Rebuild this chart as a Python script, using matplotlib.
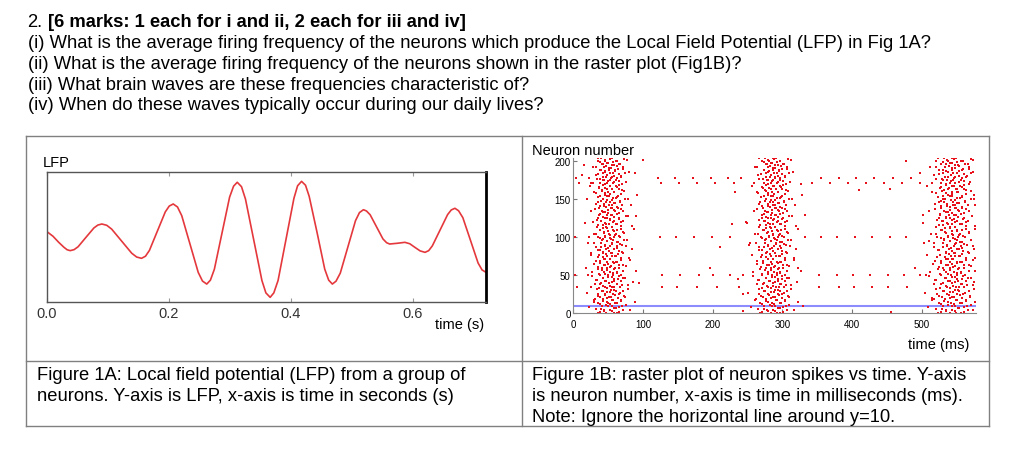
import numpy as np
import matplotlib.pyplot as plt

plt.rcParams['font.family'] = ['Liberation Sans', 'DejaVu Sans']

# question and captions
question_num = "2."
question_head = "[6 marks: 1 each for i and ii, 2 each for iii and iv]"
question_lines = [
    "(i) What is the average firing frequency of the neurons which produce the Local Field Potential (LFP) in Fig 1A?",
    "(ii) What is the average firing frequency of the neurons shown in the raster plot (Fig1B)?",
    "(iii) What brain waves are these frequencies characteristic of?",
    "(iv) When do these waves typically occur during our daily lives?",
]
caption_a = ["Figure 1A: Local field potential (LFP) from a group of",
             "neurons. Y-axis is LFP, x-axis is time in seconds (s)"]
caption_b = ["Figure 1B: raster plot of neuron spikes vs time. Y-axis",
             "is neuron number, x-axis is time in milliseconds (ms).",
             "Note: Ignore the horizontal line around y=10."]

# Fig 1A: LFP trace (time in s, LFP in arbitrary units)
lfp_t = [0.000, 0.010, 0.019, 0.028, 0.033, 0.038, 0.0445, 0.051, 0.064, 0.077, 0.0835,
         0.090, 0.098, 0.106, 0.1225, 0.139, 0.147, 0.155, 0.1615, 0.168, 0.181, 0.194,
         0.2005, 0.207, 0.214, 0.221, 0.2345, 0.248, 0.255, 0.262, 0.268, 0.2745, 0.287,
         0.2995, 0.306, 0.312, 0.319, 0.3255, 0.339, 0.3525, 0.359, 0.366, 0.372, 0.379,
         0.392, 0.405, 0.411, 0.4175, 0.424, 0.430, 0.443, 0.4555, 0.462, 0.468, 0.474,
         0.481, 0.4935, 0.506, 0.5125, 0.519, 0.524, 0.530, 0.5405, 0.551, 0.557, 0.562,
         0.575, 0.587, 0.595, 0.6035, 0.612, 0.620, 0.626, 0.632, 0.6445, 0.657, 0.663,
         0.669, 0.675, 0.682, 0.6945, 0.707, 0.7135, 0.720]
lfp_v = [0.541, 0.505, 0.460, 0.420, 0.402, 0.395, 0.403, 0.425, 0.498, 0.570, 0.592,
         0.600, 0.590, 0.561, 0.468, 0.375, 0.346, 0.336, 0.352, 0.397, 0.545, 0.693,
         0.738, 0.754, 0.731, 0.664, 0.446, 0.228, 0.161, 0.138, 0.168, 0.252, 0.530,
         0.807, 0.891, 0.921, 0.887, 0.792, 0.479, 0.165, 0.070, 0.036, 0.070, 0.166,
         0.482, 0.798, 0.894, 0.928, 0.898, 0.813, 0.533, 0.253, 0.168, 0.138, 0.160,
         0.222, 0.424, 0.626, 0.688, 0.710, 0.700, 0.671, 0.578, 0.485, 0.456, 0.446,
         0.452, 0.459, 0.448, 0.420, 0.393, 0.382, 0.395, 0.432, 0.552, 0.672, 0.708,
         0.721, 0.702, 0.649, 0.475, 0.300, 0.247, 0.228]
lfp_ticks = [0.0, 0.2, 0.4, 0.6]

# Fig 1B: raster; neurons 0..205 each fire twice per burst (times in ms, read roughly)
burst_neurons = list(range(206))
burst1a_t = [47, 62, 38, 55, 71, 44, 33, 58, 66, 50, 41, 75, 53, 36, 60, 48, 69, 29, 56, 43,
             64, 51, 39, 73, 46, 57, 35, 67, 49, 61, 42, 54, 78, 37, 59, 45, 52, 70, 31, 63,
             40, 55, 68, 47, 34, 58, 74, 43, 50, 65, 38, 57, 46, 62, 27, 53, 71, 41, 59, 48,
             66, 36, 54, 44, 72, 50, 39, 61, 57, 32, 69, 45, 52, 80, 42, 60, 49, 37, 64, 55,
             43, 70, 51, 35, 58, 47, 63, 40, 76, 53, 45, 67, 30, 56, 62, 48, 41, 73, 54, 38,
             59, 46, 65, 52, 33, 61, 44, 71, 50, 39, 57, 68, 42, 55, 47, 84, 36, 63, 51, 45,
             69, 40, 58, 34, 53, 66, 48, 43, 75, 56, 37, 62, 50, 46, 72, 41, 59, 31, 54, 64,
             47, 38, 70, 55, 44, 60, 52, 35, 67, 49, 79, 42, 57, 63, 39, 51, 45, 68, 33, 58,
             50, 73, 41, 56, 65, 46, 37, 61, 53, 43, 70, 48, 28, 59, 66, 44, 52, 38, 62, 55,
             42, 68, 49, 36, 57, 74, 45, 60, 51, 40, 64, 54, 32, 71, 47, 58, 43, 66, 50, 39,
             61, 46, 77, 53, 35, 56]
burst1b_t = [58, 35, 66, 44, 52, 82, 40, 61, 23, 55, 70, 47, 38, 63, 50, 88, 42, 57, 68, 31,
             49, 74, 54, 36, 60, 45, 65, 19, 53, 41, 72, 58, 34, 48, 67, 56, 43, 78, 39, 62,
             51, 86, 46, 59, 33, 64, 42, 71, 55, 27, 50, 68, 37, 57, 44, 62, 90, 48, 35, 60,
             41, 53, 75, 46, 66, 30, 58, 49, 63, 39, 81, 52, 44, 69, 36, 56, 61, 25, 47, 72,
             54, 43, 65, 38, 59, 84, 50, 33, 62, 45, 70, 56, 40, 21, 64, 48, 57, 77, 42, 53,
             36, 67, 46, 60, 51, 29, 73, 44, 58, 39, 63, 87, 49, 55, 34, 68, 42, 61, 47, 17,
             57, 71, 40, 52, 65, 45, 35, 59, 79, 48, 54, 38, 66, 43, 60, 26, 50, 69, 37, 56,
             62, 44, 83, 51, 33, 58, 47, 67, 40, 55, 74, 42, 61, 36, 49, 64, 92, 53, 45, 30,
             59, 41, 70, 48, 56, 37, 63, 52, 24, 66, 45, 57, 39, 76, 50, 43, 61, 34, 54, 68,
             47, 58, 32, 65, 42, 53, 80, 46, 60, 38, 71, 51, 44, 28, 63, 55, 41, 67, 49, 57,
             35, 62, 45, 73, 52, 40]
burst2a_t = [283, 297, 271, 290, 306, 278, 265, 294, 301, 285, 274, 310, 288, 268, 296, 280, 304, 260, 291, 276,
             299, 286, 272, 308, 281, 293, 267, 302, 284, 296, 275, 289, 313, 270, 295, 279, 287, 305, 263, 298,
             273, 290, 303, 282, 266, 293, 309, 277, 285, 300, 271, 292, 280, 297, 258, 288, 306, 275, 294, 283,
             301, 269, 289, 278, 307, 285, 272, 296, 292, 264, 304, 280, 287, 316, 276, 295, 284, 270, 299, 290,
             277, 305, 286, 267, 293, 282, 298, 274, 311, 288, 279, 302, 262, 291, 297, 283, 275, 308, 289, 271,
             294, 281, 300, 287, 265, 296, 278, 306, 285, 272, 292, 303, 276, 290, 282, 319, 268, 298, 286, 279,
             304, 274, 293, 266, 288, 301, 283, 277, 310, 291, 270, 297, 285, 280, 307, 275, 294, 263, 289, 299,
             282, 271, 305, 290, 279, 295, 287, 268, 302, 284, 314, 276, 292, 298, 273, 286, 280, 303, 265, 293,
             285, 308, 275, 291, 300, 281, 270, 296, 288, 277, 305, 283, 259, 294, 301, 279, 287, 272, 297, 290,
             276, 303, 284, 269, 292, 309, 280, 295, 286, 274, 299, 289, 264, 306, 282, 293, 278, 301, 285, 273,
             296, 281, 312, 288, 267, 291]
burst2b_t = [292, 268, 301, 279, 287, 317, 273, 296, 255, 290, 305, 282, 271, 298, 285, 323, 276, 292, 303, 262,
             284, 309, 289, 269, 295, 280, 300, 251, 288, 274, 307, 293, 266, 283, 302, 291, 278, 313, 272, 297,
             286, 321, 281, 294, 265, 299, 277, 306, 290, 258, 285, 303, 270, 292, 279, 297, 326, 283, 268, 295,
             276, 288, 310, 281, 301, 263, 293, 284, 298, 272, 316, 287, 279, 304, 269, 291, 296, 257, 282, 307,
             289, 278, 300, 271, 294, 319, 285, 266, 297, 280, 305, 291, 275, 253, 299, 283, 292, 312, 277, 288,
             269, 302, 281, 295, 286, 261, 308, 279, 293, 274, 298, 322, 284, 290, 267, 303, 277, 296, 282, 249,
             292, 306, 275, 287, 300, 280, 270, 294, 314, 283, 289, 273, 301, 278, 295, 259, 285, 304, 272, 291,
             297, 279, 318, 286, 266, 293, 282, 302, 275, 290, 309, 277, 296, 269, 284, 299, 328, 288, 280, 264,
             294, 276, 305, 283, 291, 272, 298, 287, 256, 301, 280, 292, 274, 311, 285, 278, 296, 267, 289, 303,
             282, 293, 265, 300, 277, 288, 315, 281, 295, 273, 306, 286, 279, 260, 298, 290, 276, 302, 284, 292,
             270, 297, 280, 308, 287, 275]
burst3a_t = [540, 556, 527, 548, 566, 535, 521, 552, 560, 543, 531, 571, 546, 524, 555, 538, 563, 515, 549, 533,
             558, 544, 529, 569, 539, 551, 522, 562, 541, 554, 532, 547, 575, 526, 553, 536, 545, 565, 518, 557,
             530, 548, 563, 540, 520, 551, 570, 534, 543, 559, 527, 550, 537, 556, 512, 546, 567, 532, 552, 541,
             561, 525, 547, 535, 568, 543, 528, 555, 550, 519, 564, 537, 545, 576, 533, 553, 542, 526, 558, 548,
             534, 566, 544, 523, 551, 539, 557, 531, 573, 546, 536, 561, 517, 549, 555, 541, 532, 570, 547, 528,
             552, 538, 559, 545, 521, 555, 535, 567, 543, 529, 550, 563, 533, 548, 540, 576, 524, 557, 544, 536,
             564, 531, 551, 522, 546, 561, 541, 534, 572, 549, 526, 556, 543, 537, 568, 532, 552, 519, 547, 558,
             540, 528, 566, 548, 536, 554, 545, 524, 562, 542, 575, 533, 550, 557, 530, 544, 538, 563, 520, 551,
             543, 570, 532, 549, 560, 539, 527, 555, 546, 534, 567, 541, 514, 553, 561, 536, 545, 529, 557, 548,
             533, 565, 542, 525, 550, 571, 537, 554, 544, 531, 559, 547, 520, 568, 539, 552, 535, 562, 543, 530,
             556, 538, 574, 546, 523, 549]
burst3b_t = [549, 523, 560, 535, 544, 574, 529, 553, 509, 547, 565, 538, 527, 557, 542, 576, 532, 550, 563, 517,
             541, 569, 546, 524, 555, 536, 559, 505, 545, 530, 567, 552, 520, 540, 561, 549, 534, 573, 528, 556,
             543, 575, 537, 552, 519, 558, 533, 566, 548, 511, 542, 562, 526, 551, 535, 556, 576, 540, 523, 554,
             531, 545, 570, 538, 560, 516, 550, 541, 557, 527, 574, 544, 535, 563, 522, 548, 555, 507, 539, 568,
             546, 534, 559, 525, 553, 575, 542, 518, 556, 536, 565, 548, 530, 503, 558, 540, 551, 571, 532, 545,
             522, 562, 537, 554, 543, 513, 568, 533, 550, 528, 557, 576, 540, 547, 521, 563, 531, 555, 538, 501,
             548, 566, 529, 544, 559, 535, 524, 552, 572, 539, 546, 526, 561, 534, 553, 510, 541, 564, 527, 549,
             557, 536, 576, 545, 519, 551, 532, 562, 528, 547, 570, 530, 555, 523, 540, 558, 575, 544, 534, 515,
             552, 529, 564, 537, 550, 526, 557, 543, 508, 560, 534, 548, 527, 569, 542, 531, 556, 520, 546, 563,
             538, 553, 517, 561, 530, 545, 573, 535, 558, 525, 567, 543, 533, 512, 554, 547, 528, 566, 540, 551,
             521, 559, 536, 571, 544, 532]
burst_times = [burst1a_t, burst1b_t, burst2a_t, burst2b_t, burst3a_t, burst3b_t]

# regularly firing neurons between the bursts
tonic_rows = [178, 171, 100, 50, 35]
tonic_times = [
    [4, 22, 122, 146, 172, 197, 222, 355, 381, 406, 432, 458, 484],
    [8, 26, 126, 151, 178, 203, 230, 343, 368, 394, 420, 446, 472, 497],
    [2, 23, 124, 148, 173, 199, 225, 332, 356, 378, 404, 428, 454, 478],
    [3, 21, 127, 153, 181, 200, 225, 243, 352, 378, 401, 425, 451, 475, 497],
    [6, 25, 127, 149, 178, 206, 237, 352, 381, 403, 428, 452, 479],
]
# isolated spikes
stray_t = [100, 478, 454, 410, 210, 196, 228, 332, 456, 243, 490, 16, 12, 20, 28, 25, 18,
           30, 90, 94, 88, 240, 248, 252, 244, 326, 322, 330, 502, 506, 498, 510, 515, 232, 236]
stray_n = [202, 200, 164, 162, 87, 60, 118, 130, 2, 3, 60, 195, 182, 150, 120, 80, 60,
           15, 128, 40, 185, 178, 120, 90, 25, 170, 60, 10, 130, 50, 185, 95, 20, 160, 45]
raster_xticks = [0, 100, 200, 300, 400, 500]
raster_yticks = [0, 50, 100, 150, 200]
ignore_line_y = 10

fig = plt.figure(figsize=(10.24, 4.56), dpi=100)
ax0 = fig.add_axes([0, 0, 1, 1])
ax0.set_xlim(0, 1024)
ax0.set_ylim(456, 0)
ax0.axis('off')

fs = 13.2
ax0.text(27.5, 26.7, question_num, fontsize=fs, va='baseline')
ax0.text(47.5, 26.7, question_head, fontsize=fs, fontweight='bold', va='baseline')
for i, line in enumerate(question_lines):
    ax0.text(27.5, 48.3 + i * 20.6, line, fontsize=fs, va='baseline')

# table
grey = '#808080'
for xs, ys in [([26, 989], [137, 137]), ([26, 26], [137, 427]), ([989, 989], [137, 427]),
               ([522, 522], [137, 427]), ([26, 989], [362, 362]), ([26, 989], [427, 427])]:
    ax0.plot(xs, ys, color=grey, lw=1)

for i, line in enumerate(caption_a):
    ax0.text(37, 380.5 + i * 21, line, fontsize=fs, va='baseline')
for i, line in enumerate(caption_b):
    ax0.text(532.5, 380.5 + i * 21, line, fontsize=fs, va='baseline')

# Fig 1A
ax1 = fig.add_axes([47 / 1024, (456 - 303) / 456, 439 / 1024, 130 / 456])
ax1.plot(lfp_t, lfp_v, color='#e4383c', lw=1.2)
ax1.set_xlim(0, 0.72)
ax1.set_ylim(0, 1)
ax1.set_yticks([])
ax1.set_xticks(lfp_ticks)
ax1.set_xticklabels(['%.1f' % v for v in lfp_ticks], fontsize=10.5, color='#333333')
ax1.tick_params(axis='x', direction='in', top=True, length=3, color='#999999', pad=3)
for s in ax1.spines.values():
    s.set_color('#555555')
    s.set_linewidth(1)
ax1.spines['right'].set_color('black')
ax1.spines['right'].set_linewidth(2)
ax0.text(42.5, 163, "LFP", fontsize=10.5, va='center')
ax0.text(435, 325, "time (s)", fontsize=10.5, va='center')

# Fig 1B
ax2 = fig.add_axes([573.3 / 1024, (456 - 314.3) / 456, 402.2 / 1024, 155.8 / 456])
ax2.axhline(ignore_line_y, color='#8c8cff', lw=1.5, zorder=1)
spike_t, spike_n = [], []
for times in burst_times:
    spike_t += times
    spike_n += burst_neurons[:len(times)]
for row, times in zip(tonic_rows, tonic_times):
    spike_t += times
    spike_n += [row] * len(times)
spike_t += stray_t
spike_n += stray_n
ax2.plot(spike_t, spike_n, 's', ms=1.5, mew=0, color='#e8101a', zorder=2)
ax2.set_xlim(0, 577)
ax2.set_ylim(0, 205)
ax2.set_xticks(raster_xticks)
ax2.set_yticks(raster_yticks)
ax2.tick_params(direction='in', length=3, labelsize=7, color='#777777', pad=2)
ax2.tick_params(axis='x', pad=4)
ax2.spines['top'].set_visible(False)
ax2.spines['right'].set_visible(False)
for s in ['left', 'bottom']:
    ax2.spines[s].set_color('#888888')
ax0.text(532, 150.7, "Neuron number", fontsize=10.5, va='center')
ax0.text(907.7, 345, "time (ms)", fontsize=10.5, va='center')

fig.savefig('out.png', dpi=100)
